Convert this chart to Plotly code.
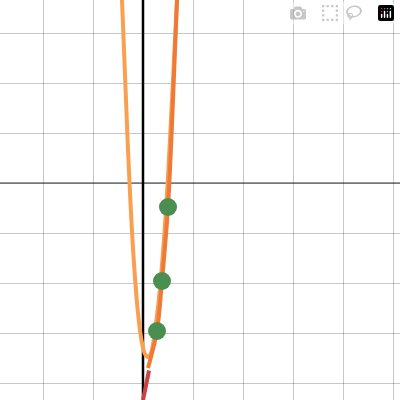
import plotly.graph_objects as go

# light orange curve
lo_x = [-0.42, -0.30, -0.20, -0.10, -0.02, 0.04, 0.10, 0.16, 0.24, 0.34, 0.46, 0.58, 0.68]
lo_y = [3.66, 0.66, -1.30, -2.60, -3.20, -3.42, -3.48, -3.40, -2.95, -2.10, -0.54, 1.66, 3.66]
# dark orange curve
do_x = [0.10, 0.18, 0.28, 0.38, 0.50, 0.60, 0.68]
do_y = [-3.70, -3.40, -2.96, -1.96, -0.48, 1.66, 3.66]
# red segment
r_x = [0.0, 0.05, 0.12]
r_y = [-4.34, -4.10, -3.75]
# points
p_x = [0.50, 0.38, 0.28]
p_y = [-0.48, -1.96, -2.96]

fig = go.Figure()
fig.add_trace(go.Scatter(x=r_x, y=r_y, mode="lines", line=dict(color="#c74440", width=4, shape="spline")))
fig.add_trace(go.Scatter(x=lo_x, y=lo_y, mode="lines", line=dict(color="#f8a050", width=4, shape="spline")))
fig.add_trace(go.Scatter(x=do_x, y=do_y, mode="lines", line=dict(color="#ef7a38", width=4, shape="spline")))
fig.add_trace(go.Scatter(x=p_x, y=p_y, mode="markers", marker=dict(color="#4a8f50", size=18)))

ax = dict(showticklabels=False, dtick=1, tick0=0, gridcolor="rgba(0,0,0,0.22)", gridwidth=1,
          zeroline=False, showline=False, fixedrange=True)
fig.update_xaxes(range=[-2.86, 5.14], **ax)
fig.update_yaxes(range=[-4.34, 3.66], **ax)
fig.add_shape(type="line", x0=-2.86, x1=5.14, y0=0, y1=0, line=dict(color="#777", width=1.5), layer="below")
fig.add_shape(type="line", x0=0, x1=0, y0=-4.34, y1=3.66, line=dict(color="black", width=2.5), layer="below")
fig.update_layout(width=400, height=400, margin=dict(l=0, r=0, t=0, b=0), showlegend=False,
                  plot_bgcolor="white", paper_bgcolor="white")
fig.write_html("out.html", post_script="document.body.style.margin='0';document.body.style.overflow='hidden';")
